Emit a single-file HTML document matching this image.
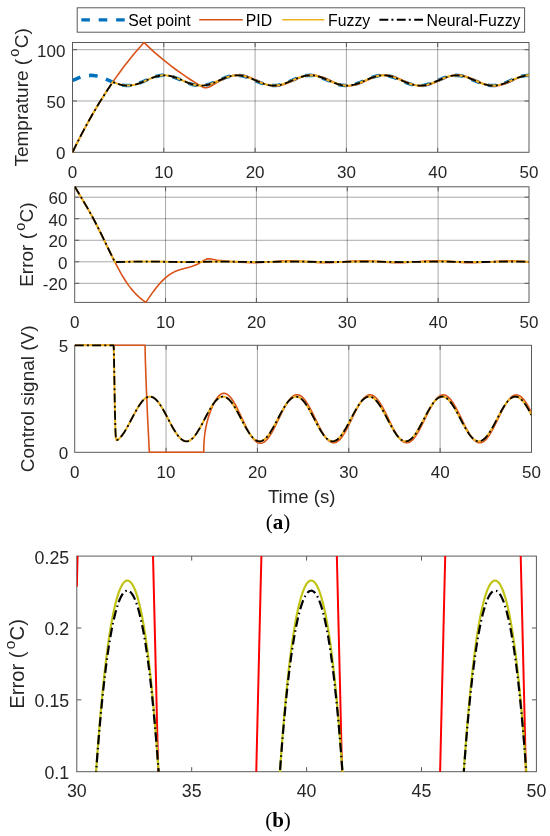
<!DOCTYPE html><html><head><meta charset="utf-8"><style>html,body{margin:0;padding:0;background:#fff}svg{display:block}</style></head><body><svg width="550" height="836" viewBox="0 0 550 836">
<rect width="550" height="836" fill="#fff"/>
<clipPath id="c1"><rect x="72.5" y="41.0" width="456.5" height="112.80000000000001"/></clipPath>
<line x1="163.80" y1="42.5" x2="163.80" y2="152.3" stroke="#262626" stroke-opacity="0.40" stroke-width="1.0"/>
<line x1="255.10" y1="42.5" x2="255.10" y2="152.3" stroke="#262626" stroke-opacity="0.40" stroke-width="1.0"/>
<line x1="346.40" y1="42.5" x2="346.40" y2="152.3" stroke="#262626" stroke-opacity="0.40" stroke-width="1.0"/>
<line x1="437.70" y1="42.5" x2="437.70" y2="152.3" stroke="#262626" stroke-opacity="0.40" stroke-width="1.0"/>
<line x1="72.5" y1="100.99" x2="529.0" y2="100.99" stroke="#262626" stroke-opacity="0.40" stroke-width="1.0"/>
<line x1="72.5" y1="49.68" x2="529.0" y2="49.68" stroke="#262626" stroke-opacity="0.40" stroke-width="1.0"/>
<rect x="72.5" y="42.5" width="456.5" height="109.80000000000001" fill="none" stroke="#5a5a5a" stroke-width="1"/>
<line x1="163.80" y1="152.3" x2="163.80" y2="147.8" stroke="#5a5a5a" stroke-width="1"/>
<line x1="163.80" y1="42.5" x2="163.80" y2="47.0" stroke="#5a5a5a" stroke-width="1"/>
<line x1="255.10" y1="152.3" x2="255.10" y2="147.8" stroke="#5a5a5a" stroke-width="1"/>
<line x1="255.10" y1="42.5" x2="255.10" y2="47.0" stroke="#5a5a5a" stroke-width="1"/>
<line x1="346.40" y1="152.3" x2="346.40" y2="147.8" stroke="#5a5a5a" stroke-width="1"/>
<line x1="346.40" y1="42.5" x2="346.40" y2="47.0" stroke="#5a5a5a" stroke-width="1"/>
<line x1="437.70" y1="152.3" x2="437.70" y2="147.8" stroke="#5a5a5a" stroke-width="1"/>
<line x1="437.70" y1="42.5" x2="437.70" y2="47.0" stroke="#5a5a5a" stroke-width="1"/>
<line x1="72.5" y1="100.99" x2="77.0" y2="100.99" stroke="#5a5a5a" stroke-width="1"/>
<line x1="529.0" y1="100.99" x2="524.5" y2="100.99" stroke="#5a5a5a" stroke-width="1"/>
<line x1="72.5" y1="49.68" x2="77.0" y2="49.68" stroke="#5a5a5a" stroke-width="1"/>
<line x1="529.0" y1="49.68" x2="524.5" y2="49.68" stroke="#5a5a5a" stroke-width="1"/>
<polyline clip-path="url(#c1)" fill="none" points="72.50,80.47 76.38,78.79 79.12,77.70 81.63,76.84 84.14,76.15 86.42,75.69 88.71,75.42 90.99,75.34 93.27,75.46 95.10,75.69 97.15,76.09 99.21,76.63 101.26,77.29 105.14,78.79 114.22,82.69 116.78,83.64 119.06,84.37 121.57,84.99 123.86,85.38 126.37,85.58 128.65,85.56 130.70,85.38 132.76,85.04 135.04,84.50 137.32,83.80 141.43,82.24 151.02,78.14 153.53,77.21 155.81,76.50 158.09,75.94 160.38,75.56 162.66,75.36 164.94,75.36 167.00,75.53 169.05,75.85 171.33,76.38 173.61,77.06 177.72,78.60 187.54,82.80 190.05,83.72 192.33,84.43 194.61,84.99 196.90,85.38 199.18,85.57 201.23,85.58 203.33,85.43 205.52,85.09 207.85,84.56 210.13,83.88 214.24,82.34 224.06,78.14 226.57,77.21 228.85,76.50 231.13,75.94 233.19,75.59 235.47,75.37 237.52,75.35 239.58,75.48 241.86,75.81 244.14,76.32 246.43,76.99 248.48,77.70 250.76,78.60 260.58,82.80 263.09,83.72 265.37,84.43 267.65,84.99 269.71,85.35 271.76,85.55 273.82,85.60 275.87,85.48 278.15,85.17 280.44,84.68 282.95,83.95 285.00,83.23 287.28,82.34 297.10,78.14 299.61,77.21 301.89,76.50 304.17,75.94 306.23,75.59 308.28,75.39 310.34,75.34 312.39,75.46 314.67,75.77 316.96,76.26 319.47,76.99 321.52,77.70 323.80,78.60 333.62,82.80 336.13,83.72 338.41,84.43 340.69,84.99 342.75,85.35 344.80,85.55 346.86,85.60 348.91,85.48 351.19,85.17 353.48,84.68 355.99,83.95 358.04,83.23 360.32,82.34 370.14,78.14 372.65,77.21 374.93,76.50 377.21,75.94 379.27,75.59 381.32,75.39 383.38,75.34 385.43,75.46 387.71,75.77 390.00,76.26 392.51,76.99 394.56,77.70 396.84,78.60 406.66,82.80 409.17,83.72 411.45,84.43 413.73,84.99 415.79,85.35 417.84,85.55 419.90,85.60 421.95,85.48 424.23,85.17 426.52,84.68 429.03,83.95 431.08,83.23 433.36,82.34 443.18,78.14 445.69,77.21 447.97,76.50 450.03,75.99 452.08,75.62 454.13,75.40 456.19,75.34 458.47,75.46 460.75,75.77 463.04,76.26 465.55,76.99 467.60,77.70 469.88,78.60 479.70,82.80 482.21,83.72 484.49,84.43 486.55,84.94 488.60,85.32 490.65,85.54 492.71,85.60 494.99,85.48 497.27,85.17 499.56,84.68 502.07,83.95 504.12,83.23 506.40,82.34 516.22,78.14 518.73,77.21 521.01,76.50 523.07,75.99 525.12,75.62 527.17,75.40 529.00,75.34" style="stroke:#0072BD;stroke-width:3.5;stroke-dasharray:8.6 8.8;stroke-linejoin:round"/>
<polyline clip-path="url(#c1)" fill="none" points="72.50,152.30 76.61,143.93 80.72,135.86 84.83,128.08 88.93,120.58 93.27,112.96 97.61,105.62 101.94,98.55 106.28,91.76 110.85,84.88 115.32,78.41 119.98,71.94 124.54,65.85 129.33,59.71 134.13,53.84 138.92,48.20 143.99,42.50 147.82,46.17 151.47,49.56 155.35,53.03 159.24,56.39 163.12,59.64 167.22,62.95 171.33,66.15 175.44,69.24 180.23,72.69 185.26,76.16 190.28,79.48 195.30,82.65 198.95,84.85 202.24,86.73 203.88,87.42 204.61,87.62 205.34,87.73 206.35,87.72 207.40,87.55 208.54,87.20 209.68,86.72 211.50,85.74 216.07,83.03 219.04,81.41 224.74,78.54 228.17,77.02 230.45,76.20 232.50,75.64 234.79,75.24 237.07,75.05 239.35,75.05 241.86,75.24 244.14,75.63 246.43,76.20 248.94,77.01 251.45,77.99 261.49,82.53 263.77,83.47 265.83,84.22 268.34,84.97 270.62,85.47 272.90,85.79 275.19,85.89 277.01,85.83 279.07,85.60 281.12,85.21 283.17,84.67 285.46,83.92 287.97,82.94 298.01,78.41 300.29,77.47 302.35,76.72 304.86,75.97 307.14,75.46 309.42,75.15 311.71,75.04 313.76,75.12 315.81,75.37 317.87,75.78 320.15,76.40 322.43,77.18 324.72,78.09 334.07,82.33 338.18,83.98 340.47,84.72 342.75,85.30 344.80,85.66 346.86,85.85 349.14,85.88 351.42,85.69 353.70,85.31 355.99,84.74 358.50,83.92 361.01,82.94 371.05,78.41 373.33,77.47 375.39,76.72 377.90,75.97 380.18,75.46 382.46,75.15 384.75,75.04 387.03,75.14 389.31,75.45 391.59,75.95 394.10,76.70 396.16,77.44 398.44,78.38 405.97,81.82 408.71,83.01 411.45,84.06 413.96,84.85 416.47,85.43 418.98,85.79 421.27,85.89 423.78,85.77 425.60,85.53 427.66,85.10 429.71,84.53 431.77,83.84 435.65,82.26 444.55,78.21 446.83,77.29 449.11,76.49 451.39,75.85 453.45,75.42 455.73,75.13 457.79,75.04 460.07,75.14 462.35,75.45 464.63,75.95 467.14,76.70 469.20,77.44 471.48,78.38 479.01,81.82 481.75,83.01 484.26,83.98 486.55,84.72 488.83,85.30 491.11,85.69 493.39,85.88 495.45,85.87 497.27,85.72 499.33,85.40 501.15,84.99 503.21,84.39 505.26,83.67 507.54,82.75 516.67,78.60 520.55,77.04 522.84,76.28 524.89,75.74 526.95,75.35 529.00,75.11" style="stroke:#D95319;stroke-width:1.6;stroke-linejoin:round"/>
<polyline clip-path="url(#c1)" fill="none" points="72.50,152.30 77.06,143.02 81.86,133.67 86.65,124.72 91.67,115.73 96.47,107.52 101.26,99.65 106.97,90.71 112.67,82.21 112.76,81.86 115.50,82.98 117.92,83.85 120.20,84.53 122.49,85.07 124.77,85.42 126.82,85.58 128.88,85.58 131.16,85.39 132.99,85.10 134.81,84.70 136.64,84.19 138.69,83.52 142.34,82.09 151.02,78.36 153.53,77.40 155.81,76.66 158.32,76.01 160.60,75.60 163.12,75.37 165.40,75.36 167.45,75.52 169.51,75.83 171.79,76.35 174.07,77.03 176.13,77.75 178.41,78.65 185.48,81.72 188.22,82.85 190.73,83.77 193.02,84.47 195.53,85.07 197.81,85.42 200.09,85.59 202.24,85.56 204.25,85.38 206.35,85.04 208.54,84.52 210.82,83.83 214.93,82.28 224.51,78.17 227.03,77.24 229.31,76.53 231.59,75.96 233.64,75.60 235.93,75.38 237.98,75.34 240.04,75.47 242.32,75.79 244.60,76.29 247.11,77.03 249.17,77.75 251.45,78.65 258.52,81.72 261.26,82.85 263.77,83.77 266.06,84.47 268.34,85.02 270.39,85.37 272.68,85.57 274.73,85.59 276.78,85.44 279.07,85.10 281.35,84.58 283.63,83.91 285.69,83.18 287.97,82.28 297.55,78.17 300.07,77.24 302.35,76.53 304.63,75.96 306.68,75.60 308.74,75.39 310.79,75.34 312.85,75.45 315.13,75.75 317.41,76.24 319.92,76.96 321.98,77.67 324.26,78.56 331.56,81.72 334.30,82.85 336.81,83.77 339.10,84.47 341.38,85.02 343.43,85.37 345.49,85.56 347.54,85.59 349.60,85.47 351.88,85.14 354.16,84.64 356.67,83.91 358.73,83.18 361.01,82.28 370.59,78.17 373.11,77.24 375.39,76.53 377.67,75.96 379.72,75.60 381.78,75.39 383.83,75.34 385.89,75.45 388.17,75.75 390.45,76.24 392.96,76.96 395.02,77.67 397.30,78.56 404.60,81.72 407.34,82.85 409.85,83.77 412.14,84.47 414.42,85.02 416.47,85.37 418.53,85.56 420.58,85.59 422.64,85.47 424.92,85.14 427.20,84.64 429.71,83.91 431.77,83.18 434.05,82.28 443.63,78.17 446.15,77.24 448.43,76.53 450.71,75.96 452.76,75.60 454.82,75.39 456.87,75.34 458.93,75.45 461.21,75.75 463.49,76.24 466.00,76.96 468.06,77.67 470.34,78.56 480.15,82.76 482.67,83.69 484.95,84.41 487.23,84.97 489.28,85.34 491.34,85.55 493.39,85.60 495.22,85.51 497.27,85.26 499.33,84.86 501.38,84.33 503.66,83.60 505.95,82.74 515.53,78.64 517.82,77.74 519.87,77.02 522.38,76.28 524.66,75.78 526.95,75.47 529.00,75.34" style="stroke:#EDB120;stroke-width:2.0;stroke-linejoin:round"/>
<polyline clip-path="url(#c1)" fill="none" points="72.50,152.30 77.06,143.02 81.86,133.67 86.65,124.72 91.67,115.73 96.47,107.52 101.26,99.65 106.97,90.71 112.67,82.21 112.76,81.86 115.50,82.98 117.92,83.85 120.20,84.53 122.49,85.07 124.77,85.42 126.82,85.58 128.88,85.58 131.16,85.39 132.99,85.10 134.81,84.70 136.64,84.19 138.69,83.52 142.34,82.09 151.02,78.36 153.53,77.40 155.81,76.66 158.32,76.01 160.60,75.60 163.12,75.37 165.40,75.36 167.45,75.52 169.51,75.83 171.79,76.35 174.07,77.03 176.13,77.75 178.41,78.65 185.48,81.72 188.22,82.85 190.73,83.77 193.02,84.47 195.53,85.07 197.81,85.42 200.09,85.59 202.24,85.56 204.25,85.38 206.35,85.04 208.54,84.52 210.82,83.83 214.93,82.28 224.51,78.17 227.03,77.24 229.31,76.53 231.59,75.96 233.64,75.60 235.93,75.38 237.98,75.34 240.04,75.47 242.32,75.79 244.60,76.29 247.11,77.03 249.17,77.75 251.45,78.65 258.52,81.72 261.26,82.85 263.77,83.77 266.06,84.47 268.34,85.02 270.39,85.37 272.68,85.57 274.73,85.59 276.78,85.44 279.07,85.10 281.35,84.58 283.63,83.91 285.69,83.18 287.97,82.28 297.55,78.17 300.07,77.24 302.35,76.53 304.63,75.96 306.68,75.60 308.74,75.39 310.79,75.34 312.85,75.45 315.13,75.75 317.41,76.24 319.92,76.96 321.98,77.67 324.26,78.56 331.56,81.72 334.30,82.85 336.81,83.77 339.10,84.47 341.38,85.02 343.43,85.37 345.49,85.56 347.54,85.59 349.60,85.47 351.88,85.14 354.16,84.64 356.67,83.91 358.73,83.18 361.01,82.28 370.59,78.17 373.11,77.24 375.39,76.53 377.67,75.96 379.72,75.60 381.78,75.39 383.83,75.34 385.89,75.45 388.17,75.75 390.45,76.24 392.96,76.96 395.02,77.67 397.30,78.56 404.60,81.72 407.34,82.85 409.85,83.77 412.14,84.47 414.42,85.02 416.47,85.37 418.53,85.56 420.58,85.59 422.64,85.47 424.92,85.14 427.20,84.64 429.71,83.91 431.77,83.18 434.05,82.28 443.63,78.17 446.15,77.24 448.43,76.53 450.71,75.96 452.76,75.60 454.82,75.39 456.87,75.34 458.93,75.45 461.21,75.75 463.49,76.24 466.00,76.96 468.06,77.67 470.34,78.56 480.15,82.76 482.67,83.69 484.95,84.41 487.23,84.97 489.28,85.34 491.34,85.55 493.39,85.60 495.22,85.51 497.27,85.26 499.33,84.86 501.38,84.33 503.66,83.60 505.95,82.74 515.53,78.64 517.82,77.74 519.87,77.02 522.38,76.28 524.66,75.78 526.95,75.47 529.00,75.34" style="stroke:#000;stroke-width:1.8;stroke-dasharray:9 3.2 2 3.2;stroke-linejoin:round"/>
<text x="72.50" y="177.8" text-anchor="middle" style="font-family:'Liberation Sans',Arial,Helvetica,sans-serif;font-size:17px;fill:#262626">0</text>
<text x="163.80" y="177.8" text-anchor="middle" style="font-family:'Liberation Sans',Arial,Helvetica,sans-serif;font-size:17px;fill:#262626">10</text>
<text x="255.10" y="177.8" text-anchor="middle" style="font-family:'Liberation Sans',Arial,Helvetica,sans-serif;font-size:17px;fill:#262626">20</text>
<text x="346.40" y="177.8" text-anchor="middle" style="font-family:'Liberation Sans',Arial,Helvetica,sans-serif;font-size:17px;fill:#262626">30</text>
<text x="437.70" y="177.8" text-anchor="middle" style="font-family:'Liberation Sans',Arial,Helvetica,sans-serif;font-size:17px;fill:#262626">40</text>
<text x="529.00" y="177.8" text-anchor="middle" style="font-family:'Liberation Sans',Arial,Helvetica,sans-serif;font-size:17px;fill:#262626">50</text>
<text x="65.4" y="159.30" text-anchor="end" style="font-family:'Liberation Sans',Arial,Helvetica,sans-serif;font-size:17px;fill:#262626">0</text>
<text x="65.4" y="107.99" text-anchor="end" style="font-family:'Liberation Sans',Arial,Helvetica,sans-serif;font-size:17px;fill:#262626">50</text>
<text x="65.4" y="56.68" text-anchor="end" style="font-family:'Liberation Sans',Arial,Helvetica,sans-serif;font-size:17px;fill:#262626">100</text>
<text transform="translate(27.6,97.40) rotate(-90)" text-anchor="middle" style="font-family:'Liberation Sans',Arial,Helvetica,sans-serif;font-size:19px;fill:#262626">Temprature (<tspan dx="2.2" dy="-8.6" style="font-size:14.5px">o</tspan><tspan dx="0.3" dy="8.6">C)</tspan></text>
<clipPath id="c2"><rect x="74.7" y="185.3" width="454.3" height="118.59999999999997"/></clipPath>
<line x1="165.56" y1="186.8" x2="165.56" y2="302.4" stroke="#262626" stroke-opacity="0.40" stroke-width="1.0"/>
<line x1="256.42" y1="186.8" x2="256.42" y2="302.4" stroke="#262626" stroke-opacity="0.40" stroke-width="1.0"/>
<line x1="347.28" y1="186.8" x2="347.28" y2="302.4" stroke="#262626" stroke-opacity="0.40" stroke-width="1.0"/>
<line x1="438.14" y1="186.8" x2="438.14" y2="302.4" stroke="#262626" stroke-opacity="0.40" stroke-width="1.0"/>
<line x1="74.7" y1="283.33" x2="529.0" y2="283.33" stroke="#262626" stroke-opacity="0.40" stroke-width="1.0"/>
<line x1="74.7" y1="261.80" x2="529.0" y2="261.80" stroke="#262626" stroke-opacity="0.40" stroke-width="1.0"/>
<line x1="74.7" y1="240.27" x2="529.0" y2="240.27" stroke="#262626" stroke-opacity="0.40" stroke-width="1.0"/>
<line x1="74.7" y1="218.73" x2="529.0" y2="218.73" stroke="#262626" stroke-opacity="0.40" stroke-width="1.0"/>
<line x1="74.7" y1="197.20" x2="529.0" y2="197.20" stroke="#262626" stroke-opacity="0.40" stroke-width="1.0"/>
<rect x="74.7" y="186.8" width="454.3" height="115.59999999999997" fill="none" stroke="#5a5a5a" stroke-width="1"/>
<line x1="165.56" y1="302.4" x2="165.56" y2="297.9" stroke="#5a5a5a" stroke-width="1"/>
<line x1="165.56" y1="186.8" x2="165.56" y2="191.3" stroke="#5a5a5a" stroke-width="1"/>
<line x1="256.42" y1="302.4" x2="256.42" y2="297.9" stroke="#5a5a5a" stroke-width="1"/>
<line x1="256.42" y1="186.8" x2="256.42" y2="191.3" stroke="#5a5a5a" stroke-width="1"/>
<line x1="347.28" y1="302.4" x2="347.28" y2="297.9" stroke="#5a5a5a" stroke-width="1"/>
<line x1="347.28" y1="186.8" x2="347.28" y2="191.3" stroke="#5a5a5a" stroke-width="1"/>
<line x1="438.14" y1="302.4" x2="438.14" y2="297.9" stroke="#5a5a5a" stroke-width="1"/>
<line x1="438.14" y1="186.8" x2="438.14" y2="191.3" stroke="#5a5a5a" stroke-width="1"/>
<line x1="74.7" y1="283.33" x2="79.2" y2="283.33" stroke="#5a5a5a" stroke-width="1"/>
<line x1="529.0" y1="283.33" x2="524.5" y2="283.33" stroke="#5a5a5a" stroke-width="1"/>
<line x1="74.7" y1="261.80" x2="79.2" y2="261.80" stroke="#5a5a5a" stroke-width="1"/>
<line x1="529.0" y1="261.80" x2="524.5" y2="261.80" stroke="#5a5a5a" stroke-width="1"/>
<line x1="74.7" y1="240.27" x2="79.2" y2="240.27" stroke="#5a5a5a" stroke-width="1"/>
<line x1="529.0" y1="240.27" x2="524.5" y2="240.27" stroke="#5a5a5a" stroke-width="1"/>
<line x1="74.7" y1="218.73" x2="79.2" y2="218.73" stroke="#5a5a5a" stroke-width="1"/>
<line x1="529.0" y1="218.73" x2="524.5" y2="218.73" stroke="#5a5a5a" stroke-width="1"/>
<line x1="74.7" y1="197.20" x2="79.2" y2="197.20" stroke="#5a5a5a" stroke-width="1"/>
<line x1="529.0" y1="197.20" x2="524.5" y2="197.20" stroke="#5a5a5a" stroke-width="1"/>
<polyline clip-path="url(#c2)" fill="none" points="74.70,186.43 86.51,206.36 89.92,212.35 93.33,218.58 96.73,225.09 100.14,231.85 111.04,254.32 115.22,262.71 119.45,270.70 121.49,274.32 123.54,277.76 126.26,282.03 128.76,285.62 131.26,288.87 133.99,292.06 136.71,294.90 139.44,297.41 142.39,299.82 145.84,302.35 149.89,296.40 153.07,291.91 155.79,288.28 158.52,284.91 161.24,281.84 163.74,279.33 166.24,277.11 168.97,275.02 170.78,273.83 172.60,272.77 174.42,271.85 176.24,271.04 178.28,270.26 180.55,269.52 189.87,266.96 192.14,266.26 194.18,265.53 196.68,264.50 199.41,263.17 201.45,262.02 204.36,260.22 205.45,259.63 206.81,259.10 208.17,258.83 209.40,258.79 210.99,258.94 215.99,260.01 218.49,260.39 225.30,261.00 231.89,261.69 245.52,262.52 252.10,262.73 256.65,262.70 261.19,262.54 266.19,262.22 280.27,261.16 285.04,260.94 289.36,260.86 293.45,260.91 297.76,261.08 302.53,261.37 316.61,262.44 321.16,262.65 325.47,262.73 329.79,262.69 334.11,262.52 338.88,262.22 352.96,261.16 357.73,260.94 362.04,260.86 366.36,260.91 370.68,261.09 375.45,261.39 389.08,262.42 393.62,262.64 397.93,262.73 402.25,262.70 406.79,262.52 411.56,262.22 425.65,261.16 430.19,260.95 434.51,260.86 438.82,260.91 443.36,261.09 448.13,261.39 461.31,262.39 465.63,262.62 469.71,262.72 474.48,262.71 479.25,262.54 484.25,262.22 497.88,261.19 502.20,260.97 506.28,260.87 511.06,260.90 515.83,261.08 520.82,261.39 529.00,262.04" style="stroke:#D95319;stroke-width:1.6;stroke-linejoin:round"/>
<polyline clip-path="url(#c2)" fill="none" points="74.70,186.43 86.97,207.14 90.60,213.57 94.01,219.86 97.42,226.43 101.05,233.69 110.82,253.85 114.68,261.64 114.76,262.04 138.76,261.62 147.39,261.55 155.57,261.60 174.65,261.97 183.73,262.05 192.14,261.99 210.76,261.63 219.85,261.55 228.25,261.60 247.11,261.97 256.19,262.05 264.60,262.00 283.45,261.63 292.54,261.55 300.94,261.60 319.79,261.97 328.88,262.05 337.51,261.99 356.14,261.63 365.00,261.55 373.63,261.60 392.48,261.97 401.34,262.05 410.20,261.99 428.60,261.63 437.23,261.55 446.32,261.60 464.72,261.96 473.35,262.05 482.89,261.99 500.61,261.64 508.56,261.55 517.64,261.59 529.00,261.79" style="stroke:#EDB120;stroke-width:2.0;stroke-linejoin:round"/>
<polyline clip-path="url(#c2)" fill="none" points="74.70,186.43 86.97,207.14 90.60,213.57 94.01,219.86 97.42,226.43 101.05,233.69 110.82,253.85 114.68,261.64 114.76,262.04 138.76,261.62 147.39,261.55 155.57,261.60 174.65,261.97 183.73,262.05 192.14,261.99 210.76,261.63 219.85,261.55 228.25,261.60 247.11,261.97 256.19,262.05 264.60,262.00 283.45,261.63 292.54,261.55 300.94,261.60 319.79,261.97 328.88,262.05 337.51,261.99 356.14,261.63 365.00,261.55 373.63,261.60 392.48,261.97 401.34,262.05 410.20,261.99 428.60,261.63 437.23,261.55 446.32,261.60 464.72,261.96 473.35,262.05 482.89,261.99 500.61,261.64 508.56,261.55 517.64,261.59 529.00,261.79" style="stroke:#000;stroke-width:1.8;stroke-dasharray:9 3.2 2 3.2;stroke-linejoin:round"/>
<text x="74.70" y="327.8" text-anchor="middle" style="font-family:'Liberation Sans',Arial,Helvetica,sans-serif;font-size:17px;fill:#262626">0</text>
<text x="165.56" y="327.8" text-anchor="middle" style="font-family:'Liberation Sans',Arial,Helvetica,sans-serif;font-size:17px;fill:#262626">10</text>
<text x="256.42" y="327.8" text-anchor="middle" style="font-family:'Liberation Sans',Arial,Helvetica,sans-serif;font-size:17px;fill:#262626">20</text>
<text x="347.28" y="327.8" text-anchor="middle" style="font-family:'Liberation Sans',Arial,Helvetica,sans-serif;font-size:17px;fill:#262626">30</text>
<text x="438.14" y="327.8" text-anchor="middle" style="font-family:'Liberation Sans',Arial,Helvetica,sans-serif;font-size:17px;fill:#262626">40</text>
<text x="529.00" y="327.8" text-anchor="middle" style="font-family:'Liberation Sans',Arial,Helvetica,sans-serif;font-size:17px;fill:#262626">50</text>
<text x="67.4" y="290.33" text-anchor="end" style="font-family:'Liberation Sans',Arial,Helvetica,sans-serif;font-size:17px;fill:#262626">-20</text>
<text x="67.4" y="268.80" text-anchor="end" style="font-family:'Liberation Sans',Arial,Helvetica,sans-serif;font-size:17px;fill:#262626">0</text>
<text x="67.4" y="247.27" text-anchor="end" style="font-family:'Liberation Sans',Arial,Helvetica,sans-serif;font-size:17px;fill:#262626">20</text>
<text x="67.4" y="225.73" text-anchor="end" style="font-family:'Liberation Sans',Arial,Helvetica,sans-serif;font-size:17px;fill:#262626">40</text>
<text x="67.4" y="204.20" text-anchor="end" style="font-family:'Liberation Sans',Arial,Helvetica,sans-serif;font-size:17px;fill:#262626">60</text>
<text transform="translate(33.2,244.60) rotate(-90)" text-anchor="middle" style="font-family:'Liberation Sans',Arial,Helvetica,sans-serif;font-size:19px;fill:#262626">Error (<tspan dx="2.2" dy="-8.6" style="font-size:14.5px">o</tspan><tspan dx="0.3" dy="8.6">C)</tspan></text>
<clipPath id="c3"><rect x="74.7" y="343.8" width="456.8" height="110.0"/></clipPath>
<line x1="166.06" y1="345.3" x2="166.06" y2="452.3" stroke="#262626" stroke-opacity="0.40" stroke-width="1.0"/>
<line x1="257.42" y1="345.3" x2="257.42" y2="452.3" stroke="#262626" stroke-opacity="0.40" stroke-width="1.0"/>
<line x1="348.78" y1="345.3" x2="348.78" y2="452.3" stroke="#262626" stroke-opacity="0.40" stroke-width="1.0"/>
<line x1="440.14" y1="345.3" x2="440.14" y2="452.3" stroke="#262626" stroke-opacity="0.40" stroke-width="1.0"/>
<rect x="74.7" y="345.3" width="456.8" height="107.0" fill="none" stroke="#5a5a5a" stroke-width="1"/>
<line x1="166.06" y1="452.3" x2="166.06" y2="447.8" stroke="#5a5a5a" stroke-width="1"/>
<line x1="166.06" y1="345.3" x2="166.06" y2="349.8" stroke="#5a5a5a" stroke-width="1"/>
<line x1="257.42" y1="452.3" x2="257.42" y2="447.8" stroke="#5a5a5a" stroke-width="1"/>
<line x1="257.42" y1="345.3" x2="257.42" y2="349.8" stroke="#5a5a5a" stroke-width="1"/>
<line x1="348.78" y1="452.3" x2="348.78" y2="447.8" stroke="#5a5a5a" stroke-width="1"/>
<line x1="348.78" y1="345.3" x2="348.78" y2="349.8" stroke="#5a5a5a" stroke-width="1"/>
<line x1="440.14" y1="452.3" x2="440.14" y2="447.8" stroke="#5a5a5a" stroke-width="1"/>
<line x1="440.14" y1="345.3" x2="440.14" y2="349.8" stroke="#5a5a5a" stroke-width="1"/>
<polyline clip-path="url(#c3)" fill="none" points="74.70,345.30 145.05,345.30 145.23,355.01 145.50,364.79 146.42,390.22 147.70,419.43 149.34,452.30 203.70,452.30 203.79,447.09 204.07,441.47 204.52,436.23 205.07,431.99 205.80,427.74 206.81,423.16 207.90,419.03 209.27,414.61 210.83,410.27 212.65,405.88 214.48,402.15 215.39,400.53 216.31,399.07 217.22,397.77 218.14,396.63 219.05,395.66 219.96,394.85 220.88,394.22 221.56,393.85 222.47,393.50 223.39,393.33 224.30,393.31 225.44,393.53 226.36,393.88 227.50,394.54 228.41,395.24 229.56,396.31 230.47,397.33 231.61,398.78 232.75,400.42 233.89,402.23 236.41,406.73 238.92,411.75 244.17,422.91 246.46,427.59 248.74,431.91 250.80,435.36 252.17,437.37 253.31,438.85 254.45,440.13 255.59,441.20 256.73,442.06 257.88,442.70 259.02,443.10 260.16,443.28 261.07,443.24 262.22,442.99 263.13,442.63 264.27,441.96 265.19,441.27 266.33,440.22 267.47,438.96 268.61,437.51 269.75,435.88 270.90,434.09 273.18,430.09 275.69,425.21 280.95,414.37 283.00,410.26 285.28,406.02 287.34,402.62 288.71,400.63 289.85,399.17 290.99,397.89 292.14,396.82 293.28,395.96 294.42,395.32 295.56,394.90 296.48,394.74 297.39,394.72 298.53,394.91 299.45,395.22 300.59,395.82 301.50,396.45 302.64,397.44 303.79,398.64 304.93,400.03 306.07,401.59 307.21,403.33 309.72,407.64 312.46,412.92 317.49,423.22 319.77,427.74 322.06,431.92 324.11,435.25 325.48,437.19 326.63,438.62 327.77,439.85 328.91,440.88 330.05,441.70 331.19,442.30 332.34,442.67 333.25,442.80 334.16,442.78 335.30,442.56 336.22,442.21 337.36,441.57 338.27,440.91 339.42,439.88 340.56,438.65 341.70,437.24 342.84,435.64 343.98,433.88 346.50,429.53 349.01,424.68 354.03,414.41 356.09,410.33 358.37,406.12 360.43,402.74 361.57,401.07 362.71,399.58 363.85,398.27 365.00,397.15 366.14,396.25 367.28,395.56 368.42,395.10 369.34,394.89 370.25,394.83 371.39,394.97 372.53,395.33 373.68,395.92 374.59,396.55 375.73,397.53 376.87,398.72 378.02,400.10 379.16,401.66 380.30,403.38 382.81,407.67 385.55,412.94 390.58,423.21 392.63,427.28 394.92,431.49 396.97,434.87 398.34,436.85 399.48,438.31 400.63,439.58 401.77,440.66 402.91,441.52 404.05,442.16 405.19,442.58 406.11,442.75 407.02,442.77 408.16,442.59 409.31,442.18 410.45,441.55 411.36,440.88 412.50,439.86 413.65,438.63 414.79,437.22 415.93,435.62 417.07,433.87 419.58,429.52 422.10,424.68 429.18,410.34 431.23,406.53 433.29,403.10 434.43,401.40 435.57,399.87 436.71,398.52 437.86,397.37 439.00,396.42 439.91,395.82 441.05,395.26 441.97,394.99 443.11,394.84 444.25,394.93 445.39,395.25 446.54,395.79 447.68,396.56 448.82,397.54 449.96,398.72 451.10,400.10 452.25,401.66 453.39,403.39 455.90,407.68 458.64,412.94 465.72,427.28 468.00,431.49 470.06,434.87 471.20,436.54 472.34,438.03 473.49,439.34 474.63,440.46 475.77,441.36 476.68,441.93 477.83,442.44 478.74,442.68 479.88,442.78 481.02,442.64 482.17,442.28 483.54,441.55 484.68,440.69 485.82,439.63 486.96,438.36 488.33,436.60 489.47,434.94 490.62,433.12 493.13,428.67 495.41,424.22 501.81,411.22 503.64,407.76 505.46,404.57 507.52,401.40 509.35,399.04 510.26,398.04 511.17,397.16 512.09,396.42 513.00,395.82 514.14,395.27 515.28,394.94 516.43,394.84 517.34,394.93 518.25,395.17 519.39,395.67 520.54,396.39 521.68,397.33 522.82,398.47 523.96,399.81 525.10,401.34 526.25,403.03 527.39,404.87 528.76,407.26 531.50,412.48" style="stroke:#D95319;stroke-width:1.6;stroke-linejoin:round"/>
<polyline clip-path="url(#c3)" fill="none" points="74.70,345.30 113.53,345.30 113.62,345.79 113.76,348.31 113.98,356.80 114.90,410.73 115.36,428.58 115.63,434.48 115.90,437.77 116.09,438.98 116.27,439.67 116.45,440.04 116.73,440.22 117.18,440.11 118.10,439.50 119.01,438.74 120.15,437.62 121.07,436.60 122.21,435.16 124.26,432.20 126.09,429.21 127.92,425.97 134.08,414.27 136.60,409.70 138.88,405.91 140.94,402.92 142.08,401.47 143.22,400.19 144.32,399.13 145.32,398.32 146.42,397.61 147.42,397.12 148.47,396.78 149.52,396.63 150.53,396.65 151.44,396.82 152.36,397.12 153.50,397.68 154.41,398.29 155.55,399.22 156.70,400.34 157.84,401.64 158.98,403.11 160.12,404.73 162.63,408.75 165.15,413.25 170.40,423.26 172.68,427.46 174.97,431.33 177.02,434.42 178.39,436.21 179.54,437.53 180.68,438.66 181.82,439.61 182.96,440.35 184.10,440.90 185.25,441.23 186.16,441.34 187.07,441.31 188.21,441.08 189.13,440.75 190.27,440.14 191.18,439.50 192.33,438.53 193.47,437.38 194.61,436.04 195.75,434.54 196.89,432.89 199.41,428.82 201.92,424.29 206.90,414.79 209.00,410.91 211.28,407.00 213.34,403.86 214.71,402.03 215.85,400.68 216.99,399.51 218.14,398.53 219.28,397.74 220.42,397.16 221.56,396.78 222.47,396.64 223.39,396.63 224.53,396.82 225.44,397.12 226.59,397.68 227.50,398.29 228.64,399.22 229.78,400.34 230.93,401.64 232.07,403.11 233.21,404.73 235.72,408.75 238.23,413.25 243.49,423.26 245.77,427.46 248.06,431.33 250.11,434.42 251.48,436.21 252.62,437.53 253.77,438.66 254.91,439.61 256.05,440.35 257.19,440.90 258.33,441.23 259.25,441.34 260.16,441.31 261.30,441.08 262.22,440.75 263.36,440.14 264.27,439.50 265.41,438.53 266.56,437.38 267.70,436.04 268.84,434.54 269.98,432.89 272.49,428.82 275.01,424.29 280.03,414.70 282.09,410.91 284.37,407.00 286.43,403.86 287.80,402.03 288.94,400.68 290.08,399.51 291.22,398.53 292.37,397.74 293.51,397.16 294.65,396.78 295.56,396.64 296.48,396.63 297.62,396.82 298.53,397.12 299.67,397.68 300.59,398.29 301.73,399.22 302.87,400.34 304.01,401.64 305.16,403.11 306.30,404.73 308.81,408.75 311.55,413.67 316.58,423.26 318.63,427.05 320.92,430.96 322.97,434.10 324.34,435.93 325.48,437.28 326.63,438.45 327.77,439.43 328.91,440.22 330.05,440.80 331.19,441.18 332.11,441.32 333.02,441.33 334.16,441.14 335.30,440.75 336.45,440.14 337.36,439.50 338.50,438.53 339.64,437.38 340.79,436.04 341.93,434.54 343.07,432.89 345.58,428.82 348.09,424.29 353.12,414.70 355.18,410.91 357.46,407.00 359.51,403.86 360.66,402.32 361.80,400.94 362.94,399.73 364.08,398.71 365.22,397.88 366.37,397.26 367.51,396.84 368.42,396.66 369.34,396.62 370.48,396.76 371.62,397.12 372.76,397.68 373.68,398.29 374.82,399.22 375.96,400.34 377.10,401.64 378.24,403.11 379.39,404.73 381.90,408.75 384.64,413.67 389.66,423.26 391.72,427.05 394.00,430.96 396.06,434.10 397.20,435.64 398.34,437.02 399.48,438.23 400.63,439.25 401.77,440.08 402.91,440.70 404.05,441.12 404.97,441.30 405.88,441.34 407.02,441.20 408.16,440.84 409.31,440.28 410.45,439.50 411.59,438.53 412.73,437.38 413.87,436.04 415.02,434.54 416.16,432.89 418.67,428.82 421.18,424.29 426.21,414.70 428.26,410.91 430.32,407.37 432.37,404.19 433.52,402.62 434.66,401.20 435.80,399.96 436.94,398.90 438.08,398.03 439.00,397.48 440.14,396.98 441.05,396.73 442.20,396.62 443.34,396.72 444.48,397.03 445.62,397.55 446.76,398.29 447.91,399.22 449.05,400.34 450.19,401.64 451.33,403.11 452.47,404.73 454.99,408.75 457.73,413.67 462.75,423.26 464.81,427.05 466.86,430.59 468.92,433.77 470.06,435.34 471.20,436.76 472.34,438.00 473.49,439.06 474.63,439.93 475.54,440.48 476.68,440.98 477.60,441.23 478.74,441.34 479.88,441.24 481.02,440.93 482.39,440.28 483.54,439.50 484.68,438.53 485.82,437.38 487.19,435.75 488.33,434.22 489.47,432.55 491.99,428.42 494.50,423.86 500.89,411.74 502.72,408.52 504.55,405.55 506.60,402.62 507.75,401.20 508.66,400.19 509.57,399.30 510.49,398.53 511.40,397.88 512.31,397.36 513.46,396.91 514.60,396.66 515.51,396.62 516.65,396.76 517.80,397.12 518.94,397.68 520.08,398.46 521.22,399.43 522.36,400.58 523.51,401.92 524.65,403.42 525.79,405.07 528.30,409.14 531.50,414.96" style="stroke:#EDB120;stroke-width:2.0;stroke-linejoin:round"/>
<polyline clip-path="url(#c3)" fill="none" points="74.70,345.30 113.53,345.30 113.62,345.79 113.76,348.31 113.98,356.80 114.90,410.73 115.36,428.58 115.63,434.48 115.90,437.77 116.09,438.98 116.27,439.67 116.45,440.04 116.73,440.22 117.18,440.11 118.10,439.50 119.01,438.74 120.15,437.62 121.07,436.60 122.21,435.16 124.26,432.20 126.09,429.21 127.92,425.97 134.08,414.27 136.60,409.70 138.88,405.91 140.94,402.92 142.08,401.47 143.22,400.19 144.32,399.13 145.32,398.32 146.42,397.61 147.42,397.12 148.47,396.78 149.52,396.63 150.53,396.65 151.44,396.82 152.36,397.12 153.50,397.68 154.41,398.29 155.55,399.22 156.70,400.34 157.84,401.64 158.98,403.11 160.12,404.73 162.63,408.75 165.15,413.25 170.40,423.26 172.68,427.46 174.97,431.33 177.02,434.42 178.39,436.21 179.54,437.53 180.68,438.66 181.82,439.61 182.96,440.35 184.10,440.90 185.25,441.23 186.16,441.34 187.07,441.31 188.21,441.08 189.13,440.75 190.27,440.14 191.18,439.50 192.33,438.53 193.47,437.38 194.61,436.04 195.75,434.54 196.89,432.89 199.41,428.82 201.92,424.29 206.90,414.79 209.00,410.91 211.28,407.00 213.34,403.86 214.71,402.03 215.85,400.68 216.99,399.51 218.14,398.53 219.28,397.74 220.42,397.16 221.56,396.78 222.47,396.64 223.39,396.63 224.53,396.82 225.44,397.12 226.59,397.68 227.50,398.29 228.64,399.22 229.78,400.34 230.93,401.64 232.07,403.11 233.21,404.73 235.72,408.75 238.23,413.25 243.49,423.26 245.77,427.46 248.06,431.33 250.11,434.42 251.48,436.21 252.62,437.53 253.77,438.66 254.91,439.61 256.05,440.35 257.19,440.90 258.33,441.23 259.25,441.34 260.16,441.31 261.30,441.08 262.22,440.75 263.36,440.14 264.27,439.50 265.41,438.53 266.56,437.38 267.70,436.04 268.84,434.54 269.98,432.89 272.49,428.82 275.01,424.29 280.03,414.70 282.09,410.91 284.37,407.00 286.43,403.86 287.80,402.03 288.94,400.68 290.08,399.51 291.22,398.53 292.37,397.74 293.51,397.16 294.65,396.78 295.56,396.64 296.48,396.63 297.62,396.82 298.53,397.12 299.67,397.68 300.59,398.29 301.73,399.22 302.87,400.34 304.01,401.64 305.16,403.11 306.30,404.73 308.81,408.75 311.55,413.67 316.58,423.26 318.63,427.05 320.92,430.96 322.97,434.10 324.34,435.93 325.48,437.28 326.63,438.45 327.77,439.43 328.91,440.22 330.05,440.80 331.19,441.18 332.11,441.32 333.02,441.33 334.16,441.14 335.30,440.75 336.45,440.14 337.36,439.50 338.50,438.53 339.64,437.38 340.79,436.04 341.93,434.54 343.07,432.89 345.58,428.82 348.09,424.29 353.12,414.70 355.18,410.91 357.46,407.00 359.51,403.86 360.66,402.32 361.80,400.94 362.94,399.73 364.08,398.71 365.22,397.88 366.37,397.26 367.51,396.84 368.42,396.66 369.34,396.62 370.48,396.76 371.62,397.12 372.76,397.68 373.68,398.29 374.82,399.22 375.96,400.34 377.10,401.64 378.24,403.11 379.39,404.73 381.90,408.75 384.64,413.67 389.66,423.26 391.72,427.05 394.00,430.96 396.06,434.10 397.20,435.64 398.34,437.02 399.48,438.23 400.63,439.25 401.77,440.08 402.91,440.70 404.05,441.12 404.97,441.30 405.88,441.34 407.02,441.20 408.16,440.84 409.31,440.28 410.45,439.50 411.59,438.53 412.73,437.38 413.87,436.04 415.02,434.54 416.16,432.89 418.67,428.82 421.18,424.29 426.21,414.70 428.26,410.91 430.32,407.37 432.37,404.19 433.52,402.62 434.66,401.20 435.80,399.96 436.94,398.90 438.08,398.03 439.00,397.48 440.14,396.98 441.05,396.73 442.20,396.62 443.34,396.72 444.48,397.03 445.62,397.55 446.76,398.29 447.91,399.22 449.05,400.34 450.19,401.64 451.33,403.11 452.47,404.73 454.99,408.75 457.73,413.67 462.75,423.26 464.81,427.05 466.86,430.59 468.92,433.77 470.06,435.34 471.20,436.76 472.34,438.00 473.49,439.06 474.63,439.93 475.54,440.48 476.68,440.98 477.60,441.23 478.74,441.34 479.88,441.24 481.02,440.93 482.39,440.28 483.54,439.50 484.68,438.53 485.82,437.38 487.19,435.75 488.33,434.22 489.47,432.55 491.99,428.42 494.50,423.86 500.89,411.74 502.72,408.52 504.55,405.55 506.60,402.62 507.75,401.20 508.66,400.19 509.57,399.30 510.49,398.53 511.40,397.88 512.31,397.36 513.46,396.91 514.60,396.66 515.51,396.62 516.65,396.76 517.80,397.12 518.94,397.68 520.08,398.46 521.22,399.43 522.36,400.58 523.51,401.92 524.65,403.42 525.79,405.07 528.30,409.14 531.50,414.96" style="stroke:#000;stroke-width:1.8;stroke-dasharray:9 3.2 2 3.2;stroke-linejoin:round"/>
<text x="74.70" y="477.7" text-anchor="middle" style="font-family:'Liberation Sans',Arial,Helvetica,sans-serif;font-size:17px;fill:#262626">0</text>
<text x="166.06" y="477.7" text-anchor="middle" style="font-family:'Liberation Sans',Arial,Helvetica,sans-serif;font-size:17px;fill:#262626">10</text>
<text x="257.42" y="477.7" text-anchor="middle" style="font-family:'Liberation Sans',Arial,Helvetica,sans-serif;font-size:17px;fill:#262626">20</text>
<text x="348.78" y="477.7" text-anchor="middle" style="font-family:'Liberation Sans',Arial,Helvetica,sans-serif;font-size:17px;fill:#262626">30</text>
<text x="440.14" y="477.7" text-anchor="middle" style="font-family:'Liberation Sans',Arial,Helvetica,sans-serif;font-size:17px;fill:#262626">40</text>
<text x="531.50" y="477.7" text-anchor="middle" style="font-family:'Liberation Sans',Arial,Helvetica,sans-serif;font-size:17px;fill:#262626">50</text>
<text x="68.2" y="459.30" text-anchor="end" style="font-family:'Liberation Sans',Arial,Helvetica,sans-serif;font-size:17px;fill:#262626">0</text>
<text x="68.2" y="352.30" text-anchor="end" style="font-family:'Liberation Sans',Arial,Helvetica,sans-serif;font-size:17px;fill:#262626">5</text>
<text transform="translate(33.6,398.80) rotate(-90)" text-anchor="middle" style="font-family:'Liberation Sans',Arial,Helvetica,sans-serif;font-size:19px;fill:#262626">Control signal (V)</text>
<text x="301.7" y="502.8" text-anchor="middle" style="font-family:'Liberation Sans',Arial,Helvetica,sans-serif;font-size:18.6px;fill:#262626">Time (s)</text>
<text x="278" y="529" text-anchor="middle" style="font-family:'Liberation Serif',serif;font-size:21px;fill:#000">(<tspan font-weight="bold">a</tspan>)</text>
<rect x="77.2" y="7.8" width="447.4" height="24.4" fill="#fff" stroke="#5a5a5a" stroke-width="1"/>
<line x1="81.3" y1="19.8" x2="124.9" y2="19.8" style="stroke:#0072BD;stroke-width:3.2;stroke-dasharray:8.6 8.8"/>
<text x="128.3" y="25.6" style="font-family:'Liberation Sans',Arial,Helvetica,sans-serif;font-size:15.8px;fill:#000">Set point</text>
<line x1="199.2" y1="19.8" x2="242.8" y2="19.8" style="stroke:#D95319;stroke-width:1.6"/>
<text x="245.8" y="25.6" style="font-family:'Liberation Sans',Arial,Helvetica,sans-serif;font-size:15.8px;fill:#000">PID</text>
<line x1="282.2" y1="19.8" x2="324.4" y2="19.8" style="stroke:#EDB120;stroke-width:1.6"/>
<text x="328.1" y="25.6" style="font-family:'Liberation Sans',Arial,Helvetica,sans-serif;font-size:15.8px;fill:#000">Fuzzy</text>
<line x1="379.4" y1="19.8" x2="423.0" y2="19.8" style="stroke:#000;stroke-width:2;stroke-dasharray:8.9 3.1 2 3.4"/>
<text x="426.6" y="25.6" style="font-family:'Liberation Sans',Arial,Helvetica,sans-serif;font-size:15.8px;fill:#000">Neural-Fuzzy</text>
<clipPath id="cb"><rect x="76.8" y="556.1" width="459.59999999999997" height="215.60000000000002"/></clipPath>
<rect x="76.8" y="556.1" width="459.59999999999997" height="215.60000000000002" fill="none" stroke="#5a5a5a" stroke-width="1"/>
<line x1="191.70" y1="771.7" x2="191.70" y2="767.2" stroke="#5a5a5a" stroke-width="1"/>
<line x1="191.70" y1="556.1" x2="191.70" y2="560.6" stroke="#5a5a5a" stroke-width="1"/>
<line x1="306.60" y1="771.7" x2="306.60" y2="767.2" stroke="#5a5a5a" stroke-width="1"/>
<line x1="306.60" y1="556.1" x2="306.60" y2="560.6" stroke="#5a5a5a" stroke-width="1"/>
<line x1="421.50" y1="771.7" x2="421.50" y2="767.2" stroke="#5a5a5a" stroke-width="1"/>
<line x1="421.50" y1="556.1" x2="421.50" y2="560.6" stroke="#5a5a5a" stroke-width="1"/>
<line x1="76.8" y1="699.83" x2="81.3" y2="699.83" stroke="#5a5a5a" stroke-width="1"/>
<line x1="536.4" y1="699.83" x2="531.9" y2="699.83" stroke="#5a5a5a" stroke-width="1"/>
<line x1="76.8" y1="627.97" x2="81.3" y2="627.97" stroke="#5a5a5a" stroke-width="1"/>
<line x1="536.4" y1="627.97" x2="531.9" y2="627.97" stroke="#5a5a5a" stroke-width="1"/>
<polyline clip-path="url(#cb)" fill="none" points="76.80,586.76 80.59,433.05 84.04,300.07 87.26,183.46 90.36,79.23 93.35,-12.42 94.84,-54.72 96.22,-91.56 97.71,-128.98 99.09,-161.14 100.47,-190.93 101.85,-218.30 103.23,-243.18 104.61,-265.51 105.98,-285.25 107.36,-302.36 108.74,-316.79 110.12,-328.51 110.81,-333.35 111.50,-337.50 112.19,-340.96 112.76,-343.32 113.45,-345.52 114.14,-347.02 114.49,-347.51 114.83,-347.83 115.18,-347.97 115.41,-347.97 115.64,-347.90 115.98,-347.64 116.33,-347.20 116.67,-346.59 117.36,-344.86 118.05,-342.43 118.62,-339.88 119.31,-336.19 120.00,-331.81 120.69,-326.74 122.07,-314.57 123.45,-299.69 124.48,-286.78 125.63,-270.69 126.78,-252.80 127.93,-233.12 129.08,-211.69 130.23,-188.54 132.53,-137.24 134.94,-76.48 137.35,-9.06 139.88,68.20 142.41,151.68 144.59,228.32 146.77,308.70 149.19,401.37 151.71,502.09 156.31,692.34 167.92,1184.86 171.13,1316.83 174.12,1434.93 177.34,1555.87 180.32,1661.14 183.20,1754.92 186.07,1840.50 187.68,1884.52 189.17,1922.75 190.78,1960.94 192.27,1993.54 193.77,2023.29 195.26,2050.13 196.76,2073.98 198.25,2094.77 199.74,2112.46 200.55,2120.68 201.24,2127.00 202.04,2133.50 202.73,2138.34 203.42,2142.49 204.11,2145.95 204.91,2149.12 205.60,2151.09 206.06,2152.01 206.41,2152.50 206.75,2152.82 207.10,2152.97 207.44,2152.94 207.79,2152.74 208.13,2152.36 208.48,2151.81 209.16,2150.19 209.97,2147.43 210.54,2144.88 211.23,2141.18 211.92,2136.80 212.61,2131.74 213.88,2120.68 215.25,2106.03 216.52,2090.25 217.90,2070.51 219.28,2048.17 220.65,2023.29 222.03,1995.93 223.41,1966.13 224.79,1933.98 226.17,1899.53 227.55,1862.87 229.04,1820.75 232.03,1729.45 234.44,1649.38 236.97,1560.05 239.61,1461.44 242.49,1349.10 247.77,1131.99 260.41,596.27 263.86,455.89 266.96,334.79 270.29,211.86 273.39,105.41 276.38,11.36 279.25,-70.34 280.75,-109.16 282.24,-145.35 283.73,-178.81 285.23,-209.45 286.72,-237.19 288.22,-261.97 289.71,-283.71 291.09,-301.03 292.58,-316.79 293.96,-328.51 294.77,-334.09 295.45,-338.12 296.14,-341.47 296.83,-344.13 297.64,-346.35 297.98,-347.02 298.33,-347.51 298.67,-347.83 299.02,-347.97 299.36,-347.94 299.71,-347.74 300.05,-347.37 300.40,-346.82 301.08,-345.20 301.77,-342.89 302.58,-339.31 303.15,-336.19 303.84,-331.81 305.11,-322.00 306.37,-309.91 307.75,-294.14 309.01,-277.35 310.39,-256.52 311.66,-235.16 313.03,-209.45 314.41,-181.27 315.79,-150.68 317.17,-117.75 318.55,-82.56 319.93,-45.18 321.42,-2.31 324.29,86.65 326.71,167.48 329.24,257.52 331.88,356.78 334.64,465.08 339.81,677.84 352.10,1199.19 355.43,1335.31 358.53,1457.04 361.75,1576.68 364.74,1680.51 367.61,1772.72 370.48,1856.55 371.98,1896.56 373.36,1931.19 374.85,1966.13 376.23,1995.93 377.72,2025.46 379.10,2050.13 380.48,2072.25 381.86,2091.77 383.24,2108.66 384.62,2122.86 385.31,2128.95 386.00,2134.36 386.69,2139.08 387.26,2142.49 387.95,2145.95 388.64,2148.73 389.33,2150.81 390.02,2152.20 390.36,2152.63 390.71,2152.89 391.05,2152.98 391.28,2152.94 391.63,2152.74 391.97,2152.36 392.32,2151.81 392.66,2151.09 393.35,2149.12 394.04,2146.47 394.73,2143.12 395.42,2139.08 396.11,2134.36 396.80,2128.95 398.18,2116.10 399.55,2100.55 400.93,2082.34 402.31,2061.51 403.69,2038.11 405.07,2012.19 406.56,1981.33 407.94,1950.35 409.44,1914.16 410.93,1875.33 412.42,1833.97 415.41,1744.09 417.94,1661.14 420.47,1572.54 423.22,1470.20 426.10,1358.26 431.50,1136.81 444.25,596.27 447.58,460.48 450.68,339.17 453.90,220.06 456.89,116.82 459.76,25.25 462.63,-57.88 464.01,-94.54 465.39,-128.98 466.77,-161.14 468.15,-190.93 469.53,-218.30 470.79,-241.20 472.17,-263.75 473.43,-282.14 474.81,-299.69 476.08,-313.43 477.46,-325.83 478.72,-334.81 479.41,-338.73 480.10,-341.96 480.79,-344.50 481.36,-346.09 481.71,-346.82 482.05,-347.37 482.40,-347.74 482.63,-347.90 482.97,-347.98 483.20,-347.94 483.55,-347.74 483.89,-347.37 484.47,-346.35 485.15,-344.50 485.84,-341.96 486.53,-338.73 487.11,-335.51 487.80,-331.01 488.49,-325.83 489.18,-319.97 490.44,-307.47 491.82,-291.25 493.08,-274.06 494.46,-252.80 495.73,-231.05 497.10,-204.92 498.48,-176.33 499.86,-145.35 501.24,-112.04 502.73,-73.42 505.61,7.92 508.36,94.12 511.12,187.49 513.99,291.49 517.10,410.38 519.85,520.75 522.96,648.92 536.40,1218.23" style="stroke:#FF0000;stroke-width:2"/>
<polyline clip-path="url(#cb)" fill="none" points="76.80,1236.55 78.87,1165.36 81.05,1096.73 83.23,1034.35 85.42,977.78 87.72,924.05 90.01,875.84 92.43,830.69 93.69,809.11 94.95,788.88 96.22,769.93 97.60,750.66 98.86,734.20 100.24,717.51 101.62,702.07 103.00,687.81 104.38,674.68 105.87,661.65 107.36,649.81 108.86,639.08 110.35,629.42 111.96,620.13 113.57,611.94 115.18,604.80 116.79,598.66 118.39,593.46 119.31,590.91 120.23,588.65 121.15,586.67 122.07,584.97 122.99,583.56 123.91,582.42 124.83,581.54 125.75,580.94 126.67,580.61 127.13,580.54 127.70,580.55 128.62,580.79 129.54,581.29 130.46,582.06 131.38,583.10 132.30,584.41 133.22,586.00 134.14,587.87 135.05,590.03 135.97,592.47 136.78,594.85 137.70,597.86 138.62,601.17 140.34,608.25 142.06,616.49 143.79,625.97 145.40,636.00 147.00,647.24 148.50,658.82 149.99,671.57 151.49,685.55 152.98,700.84 154.47,717.51 155.85,734.20 157.23,752.21 158.61,771.61 159.99,792.46 161.25,812.93 162.63,836.81 163.89,860.19 166.42,911.50 168.83,966.57 170.90,1018.91 172.86,1073.04 174.81,1132.04 176.65,1192.31 178.49,1257.45 180.32,1327.76 182.05,1398.63 183.77,1474.56 185.50,1555.82 187.10,1636.70 188.83,1729.03 190.44,1820.75 192.04,1918.05 193.65,2021.20 195.26,2130.44 196.76,2237.56 199.74,2469.08 202.73,2725.12 205.60,2996.14 208.48,3293.20 211.23,3604.50 213.99,3943.03 216.63,4294.53 219.28,4674.06 221.57,4342.41 223.87,4032.11 226.28,3728.17 228.70,3445.55 231.11,3183.15 233.64,2928.78 236.17,2694.27 238.81,2469.08 241.45,2263.08 244.21,2067.26 246.97,1889.67 249.84,1722.69 252.71,1572.73 254.21,1501.04 255.70,1433.42 257.19,1369.69 258.80,1305.21 260.41,1244.85 262.02,1188.40 263.63,1135.67 265.35,1083.09 267.07,1034.35 268.80,989.22 270.52,947.52 272.36,906.57 274.20,869.06 276.15,832.72 278.10,799.75 280.06,769.93 282.13,741.54 284.19,716.18 286.38,692.44 288.56,671.57 289.71,661.65 290.86,652.44 292.01,643.90 293.27,635.24 294.54,627.33 295.91,619.51 297.18,613.05 298.56,606.74 299.94,601.17 301.31,596.32 302.69,592.15 304.19,588.38 305.57,585.58 306.26,584.41 307.06,583.25 307.75,582.42 308.44,581.74 309.13,581.21 309.93,580.79 310.62,580.59 311.43,580.54 312.23,580.70 312.92,581.00 313.72,581.54 314.41,582.17 315.10,582.95 315.79,583.89 316.60,585.17 317.29,586.44 318.66,589.46 320.04,593.13 321.42,597.47 322.80,602.50 324.18,608.25 325.56,614.74 326.82,621.39 328.09,628.72 329.35,636.76 330.61,645.56 331.88,655.13 333.14,665.53 334.29,675.73 336.59,698.40 338.08,714.85 339.46,731.33 340.96,750.66 342.33,769.93 343.71,790.67 345.09,812.93 346.47,836.81 347.73,860.19 350.26,911.50 352.79,969.35 355.20,1031.23 357.62,1100.18 359.91,1172.96 362.21,1253.23 364.39,1336.92 366.58,1428.38 368.65,1522.66 370.71,1624.84 372.78,1735.40 374.74,1847.97 376.69,1968.88 378.64,2098.59 380.60,2237.56 382.43,2377.23 384.27,2525.93 386.11,2684.06 387.95,2852.07 389.67,3018.92 391.40,3195.20 393.12,3381.28 394.84,3577.54 396.57,3784.39 398.29,4002.21 399.90,4215.78 403.12,4674.06 405.64,4310.44 408.17,3972.52 410.70,3658.99 413.34,3355.89 415.98,3076.61 418.74,2809.12 421.61,2554.85 424.49,2323.82 427.47,2106.50 430.46,1910.91 431.96,1820.75 433.56,1729.03 435.06,1648.67 436.67,1567.07 438.28,1490.38 440.00,1413.40 441.61,1346.18 443.33,1278.85 445.05,1216.15 446.78,1157.83 448.62,1100.18 450.45,1046.98 452.52,992.12 454.71,939.57 456.89,892.11 459.07,849.38 461.37,809.11 463.67,773.29 466.08,740.06 467.35,724.31 468.61,709.64 469.87,695.99 471.25,682.21 472.52,670.54 473.89,658.82 475.27,648.09 476.65,638.30 478.03,629.42 479.52,620.76 481.02,613.05 482.51,606.25 484.01,600.31 485.61,594.85 487.11,590.61 487.91,588.65 488.72,586.90 489.52,585.37 490.33,584.06 491.13,582.95 491.93,582.06 492.74,581.37 493.54,580.89 494.35,580.61 495.27,580.54 496.18,580.74 496.99,581.14 497.79,581.74 498.60,582.54 499.52,583.72 500.32,584.97 501.13,586.44 501.93,588.12 502.73,590.03 503.54,592.15 505.15,597.08 506.76,602.95 508.25,609.28 509.74,616.49 511.24,624.63 512.73,633.75 514.11,643.08 515.60,654.23 516.98,665.53 518.36,677.86 519.62,690.11 521.00,704.56 522.27,718.85 523.53,734.20 524.80,750.66 526.06,768.27 527.32,787.11 529.74,826.66 532.03,869.06 534.22,913.98 536.40,963.80" style="stroke:#C2C418;stroke-width:2.2"/>
<polyline clip-path="url(#cb)" fill="none" points="76.80,1211.91 78.87,1144.49 81.05,1079.50 83.23,1020.43 85.42,966.85 87.72,915.97 90.01,870.32 92.43,827.56 93.69,807.13 94.95,787.97 96.22,770.03 97.60,751.77 98.86,736.19 100.24,720.38 101.62,705.76 103.00,692.26 104.38,679.82 105.87,667.49 107.36,656.27 108.86,646.11 110.35,636.96 111.96,628.16 113.57,620.41 115.18,613.65 116.79,607.83 118.39,602.91 119.31,600.49 120.23,598.35 121.15,596.48 122.07,594.87 122.99,593.53 123.91,592.45 124.83,591.62 125.75,591.05 126.67,590.74 127.70,590.68 128.62,590.91 129.54,591.38 130.46,592.11 131.38,593.09 132.30,594.34 133.22,595.84 134.14,597.61 135.05,599.65 135.97,601.97 136.78,604.23 137.70,607.07 138.62,610.21 140.34,616.91 142.06,624.72 143.79,633.69 145.40,643.19 147.00,653.83 148.50,664.80 149.99,676.87 151.49,690.11 152.98,704.59 154.47,720.38 155.85,736.19 157.23,753.24 158.61,771.61 159.99,791.36 161.25,810.75 162.63,833.36 163.89,855.50 166.42,904.09 168.83,956.24 170.90,1005.81 172.86,1057.07 174.81,1112.94 176.65,1170.01 178.49,1231.70 180.32,1298.29 182.05,1365.40 183.77,1437.31 185.50,1514.26 187.10,1590.86 188.83,1678.30 190.44,1765.15 192.04,1857.30 193.65,1954.98 195.26,2058.43 196.76,2159.87 199.74,2379.12 202.73,2621.59 205.60,2878.24 208.48,3159.56 211.23,3454.36 213.99,3774.95 216.63,4107.82 219.28,4467.23 221.57,4153.16 223.87,3859.31 226.28,3571.48 228.70,3303.83 231.11,3055.34 233.64,2814.46 236.17,2592.38 238.81,2379.12 241.45,2184.04 244.21,1998.59 246.97,1830.41 249.84,1672.29 252.71,1530.28 254.21,1462.39 255.70,1398.35 257.19,1337.99 258.80,1276.94 260.41,1219.77 262.02,1166.32 263.63,1116.38 265.35,1066.59 267.07,1020.43 268.80,977.70 270.52,938.20 272.36,899.42 274.20,863.90 276.15,829.48 278.10,798.27 280.06,770.03 282.13,743.14 284.19,719.12 286.38,696.64 288.56,676.87 289.71,667.49 290.86,658.76 292.01,650.67 293.27,642.48 294.54,634.98 295.91,627.58 297.18,621.46 298.56,615.48 299.94,610.21 301.31,605.61 302.69,601.67 304.19,598.10 305.57,595.44 306.26,594.34 307.06,593.24 307.75,592.45 308.44,591.81 309.13,591.31 309.93,590.91 310.62,590.72 311.43,590.67 312.23,590.83 312.92,591.11 313.72,591.62 314.41,592.22 315.10,592.96 315.79,593.84 316.60,595.06 317.29,596.26 318.66,599.12 320.04,602.59 321.42,606.70 322.80,611.46 324.18,616.91 325.56,623.06 326.82,629.35 328.09,636.29 329.35,643.91 330.61,652.24 331.88,661.31 333.14,671.16 334.29,680.82 336.59,702.28 338.08,717.87 339.46,733.47 340.96,751.77 342.33,770.03 343.71,789.66 345.09,810.75 346.47,833.36 347.73,855.50 350.26,904.09 352.79,958.87 355.20,1017.47 357.62,1082.77 359.91,1151.70 362.21,1227.71 364.39,1306.97 366.58,1393.58 368.65,1482.86 370.71,1579.63 372.78,1684.33 374.74,1790.92 376.69,1905.43 378.64,2028.27 380.60,2159.87 382.43,2292.14 384.27,2432.95 386.11,2582.71 387.95,2741.81 389.67,2899.82 391.40,3066.75 393.12,3242.97 394.84,3428.83 396.57,3624.71 398.29,3830.99 399.90,4033.25 403.12,4467.23 405.64,4122.88 408.17,3802.88 410.70,3505.96 413.34,3218.92 415.98,2954.45 418.74,2701.14 421.61,2460.34 424.49,2241.56 427.47,2035.76 430.46,1850.53 431.96,1765.15 433.56,1678.30 435.06,1602.19 436.67,1524.92 438.28,1452.29 440.00,1379.39 441.61,1315.73 443.33,1251.97 445.05,1192.59 446.78,1137.36 448.62,1082.77 450.45,1032.39 452.52,980.44 454.71,930.67 456.89,885.73 459.07,845.26 461.37,807.13 463.67,773.20 466.08,741.73 467.35,726.82 468.61,712.93 469.87,700.00 471.25,686.95 472.52,675.90 473.89,664.80 475.27,654.64 476.65,645.37 478.03,636.96 479.52,628.76 481.02,621.46 482.51,615.02 484.01,609.40 485.61,604.23 487.11,600.21 487.91,598.35 488.72,596.70 489.52,595.25 490.33,594.00 491.13,592.96 491.93,592.11 492.74,591.46 493.54,591.00 494.35,590.74 495.27,590.67 496.18,590.86 496.99,591.24 497.79,591.81 498.60,592.57 499.52,593.68 500.32,594.87 501.13,596.26 501.93,597.85 502.73,599.65 503.54,601.67 505.15,606.33 506.76,611.89 508.25,617.88 509.74,624.72 511.24,632.43 512.73,641.06 514.11,649.90 515.60,660.46 516.98,671.16 518.36,682.83 519.62,694.43 521.00,708.12 522.27,721.66 523.53,736.19 524.80,751.77 526.06,768.46 527.32,786.29 529.74,823.75 532.03,863.90 534.22,906.44 536.40,953.62" style="stroke:#000;stroke-width:2.2;stroke-dasharray:9.5 3.5 1.5 3.5"/>
<text x="76.80" y="797.0" text-anchor="middle" style="font-family:'Liberation Sans',Arial,Helvetica,sans-serif;font-size:17.8px;fill:#262626">30</text>
<text x="191.70" y="797.0" text-anchor="middle" style="font-family:'Liberation Sans',Arial,Helvetica,sans-serif;font-size:17.8px;fill:#262626">35</text>
<text x="306.60" y="797.0" text-anchor="middle" style="font-family:'Liberation Sans',Arial,Helvetica,sans-serif;font-size:17.8px;fill:#262626">40</text>
<text x="421.50" y="797.0" text-anchor="middle" style="font-family:'Liberation Sans',Arial,Helvetica,sans-serif;font-size:17.8px;fill:#262626">45</text>
<text x="536.40" y="797.0" text-anchor="middle" style="font-family:'Liberation Sans',Arial,Helvetica,sans-serif;font-size:17.8px;fill:#262626">50</text>
<text x="69.2" y="779.20" text-anchor="end" style="font-family:'Liberation Sans',Arial,Helvetica,sans-serif;font-size:17.8px;fill:#262626">0.1</text>
<text x="69.2" y="707.33" text-anchor="end" style="font-family:'Liberation Sans',Arial,Helvetica,sans-serif;font-size:17.8px;fill:#262626">0.15</text>
<text x="69.2" y="635.47" text-anchor="end" style="font-family:'Liberation Sans',Arial,Helvetica,sans-serif;font-size:17.8px;fill:#262626">0.2</text>
<text x="69.2" y="563.60" text-anchor="end" style="font-family:'Liberation Sans',Arial,Helvetica,sans-serif;font-size:17.8px;fill:#262626">0.25</text>
<text transform="translate(24.0,663.90) rotate(-90)" text-anchor="middle" style="font-family:'Liberation Sans',Arial,Helvetica,sans-serif;font-size:20.2px;fill:#262626">Error (<tspan dx="2.3" dy="-9.1" style="font-size:15.4px">o</tspan><tspan dx="0.3" dy="9.1">C)</tspan></text>
<text x="278" y="826.8" text-anchor="middle" style="font-family:'Liberation Serif',serif;font-size:21px;fill:#000">(<tspan font-weight="bold">b</tspan>)</text>
</svg></body></html>
